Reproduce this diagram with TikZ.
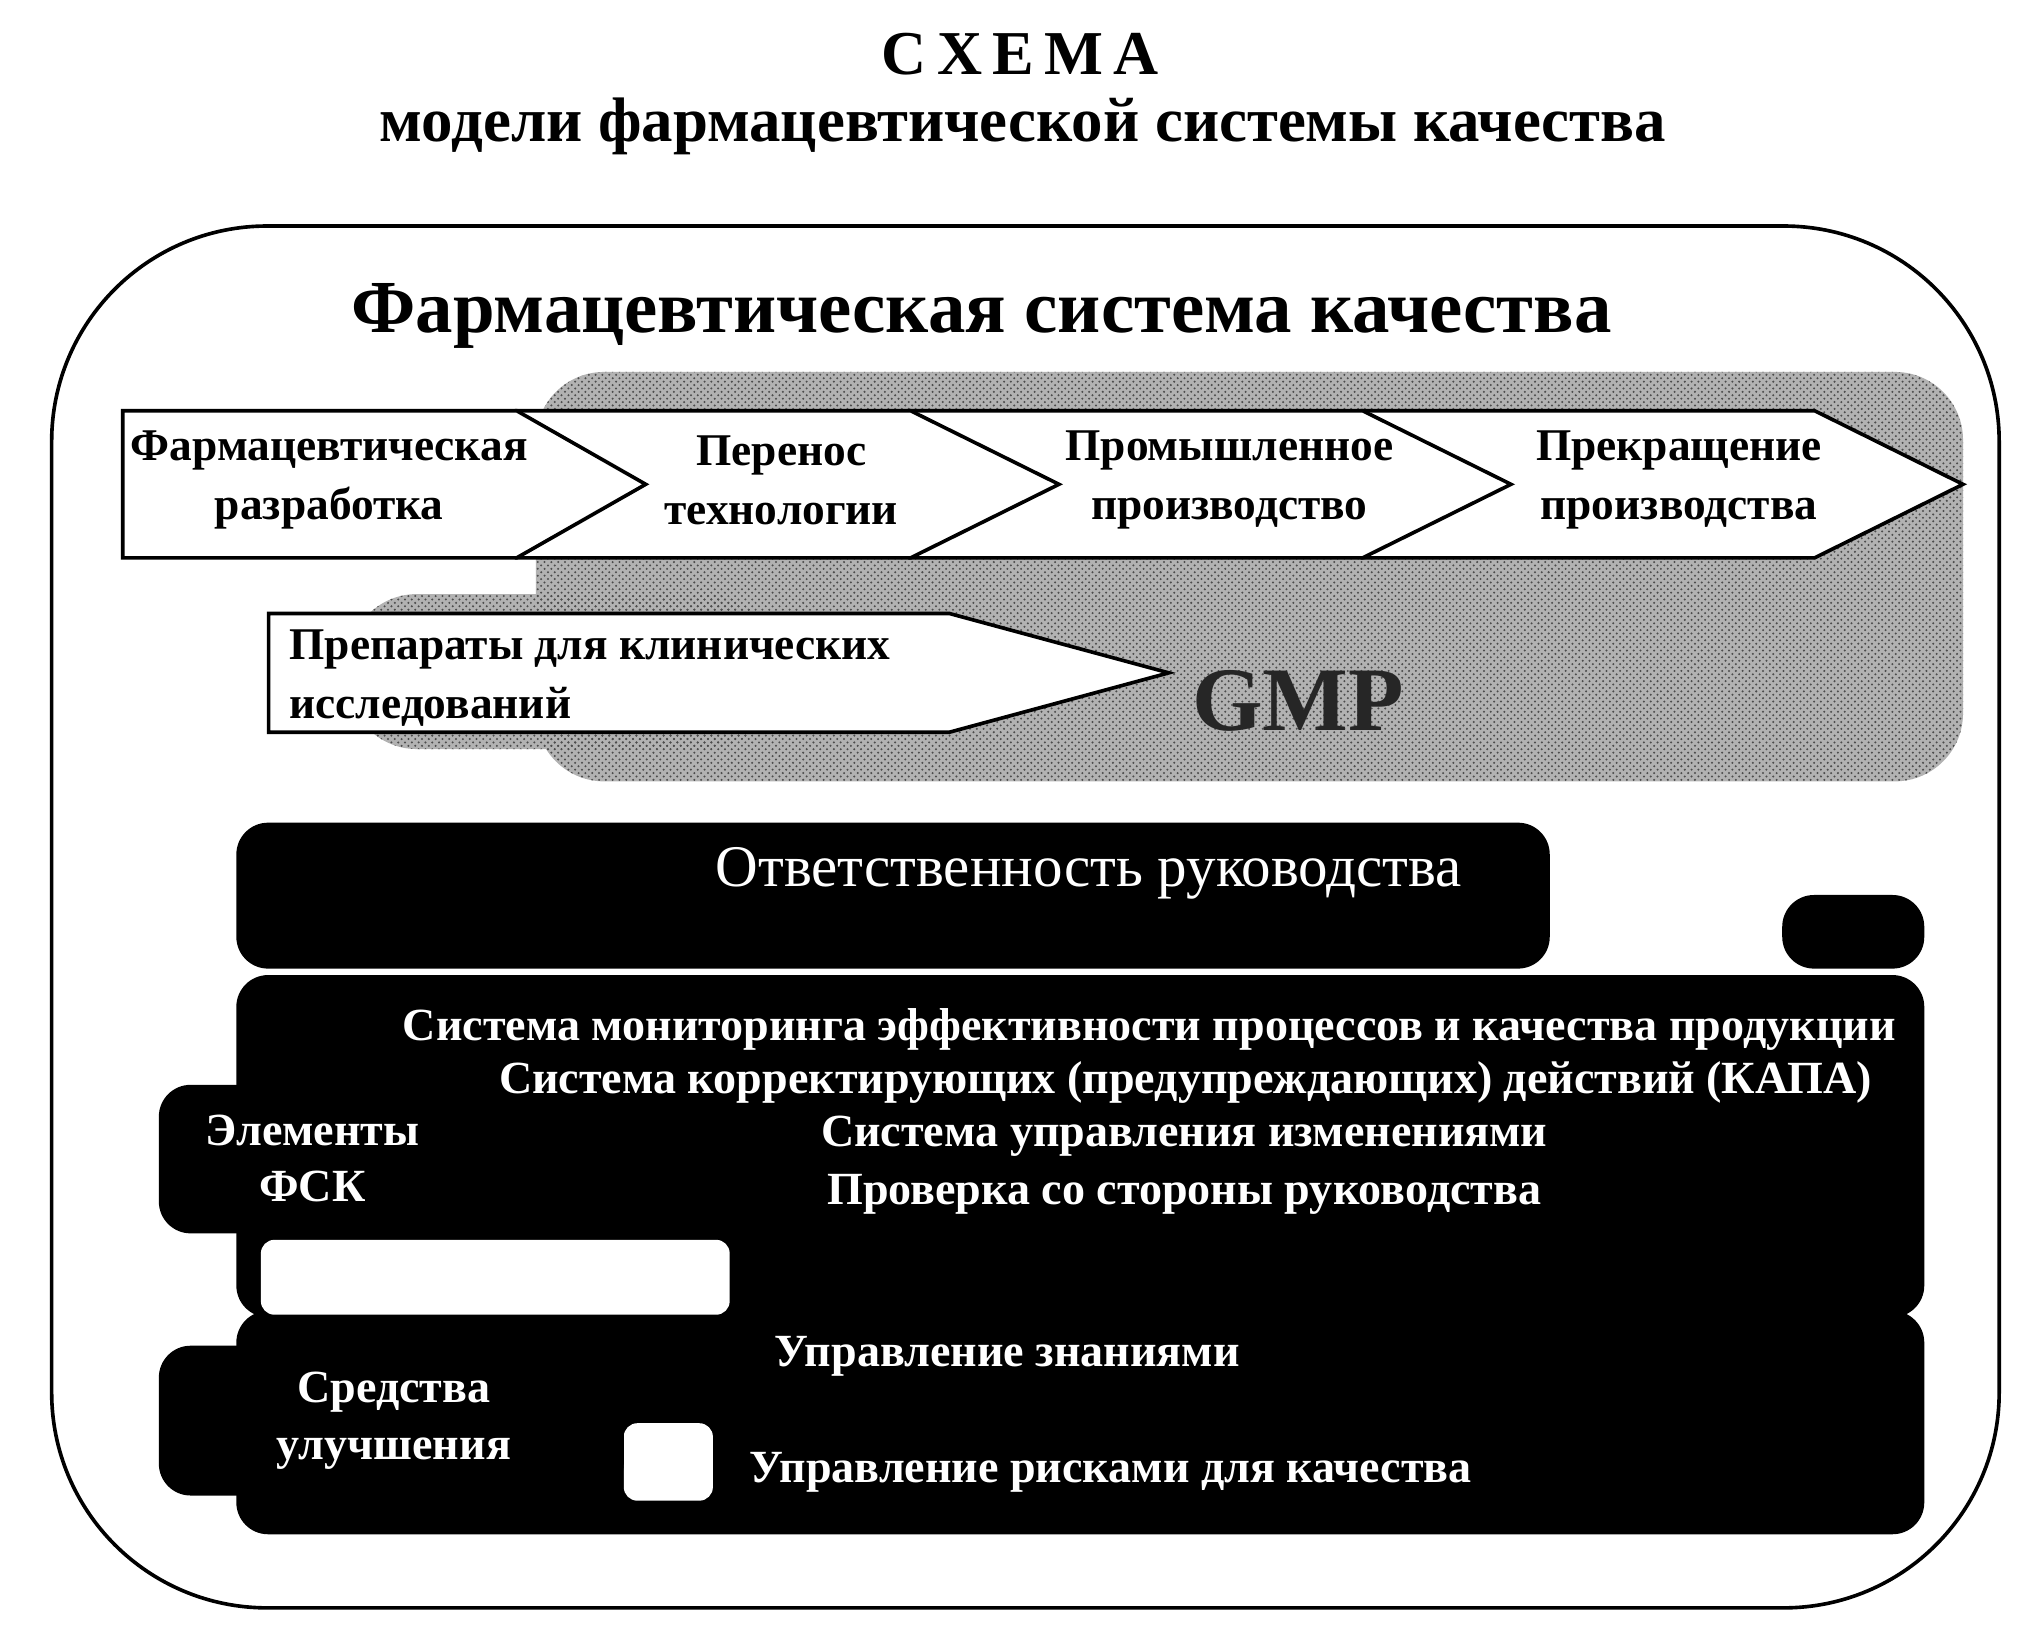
\documentclass[tikz,border=0pt]{standalone}
\usepackage{fontspec}
\setmainfont{Liberation Serif}
\usetikzlibrary{patterns}
\tikzset{
  stage/.style={draw,line width=1.6pt,fill=white},
  stagetxt/.style={font=\fontsize{20}{26}\selectfont\bfseries,align=center},
  wtxt/.style={text=white,font=\fontsize{20.3}{25}\selectfont\bfseries},
  blk/.style={fill=black,rounded corners=14pt}
}
\begin{document}
\begin{tikzpicture}[x=0.02cm,y=-0.02cm]
\useasboundingbox (0,0) rectangle (1568,1268);
    % Titles
\node (t1) at (790,42) {\fontsize{27.5}{30}\selectfont\bfseries С\,Х\,Е\,М\,А};
\node (t2) at (792,98) {\fontsize{27.7}{30}\selectfont\bfseries модели фармацевтической системы качества};
\draw[line width=1.6pt,rounded corners=95pt] (40,175) rectangle (1548,1245);
\node (fsk) at (760,245) {\fontsize{33}{38}\selectfont\bfseries Фармацевтическая система качества};
    % GMP field
\begin{scope}[rounded corners=30pt]
\fill[gray!60] (415,288) rectangle (1520,605);
\fill[gray!60] (270,460) rectangle (600,580);
\pattern[pattern=crosshatch dots,pattern color=black!70] (415,288) rectangle (1520,605);
\pattern[pattern=crosshatch dots,pattern color=black!70] (270,460) rectangle (600,580);
\end{scope}
\node[text=black!85] (gmp) at (1005,543) {\fontsize{40}{44}\selectfont\bfseries GMP};
    % Stages, drawn right to left
\def\stagearrow#1#2#3{
  \draw[stage] (#1,318) -- (#2,318) -- (#3,375) -- (#2,432) -- (#1,432) -- cycle;
}
\stagearrow{1055}{1405}{1520}
\stagearrow{705}{1055}{1170}
\stagearrow{400}{705}{820}
\stagearrow{95}{400}{500}
\node[stagetxt] (s1) at (255,372) {Фармацевтическая\\разработка};
\node[stagetxt] (s2) at (605,372) {Перенос\\технологии};
\node[stagetxt] (s3) at (952,372) {Промышленное\\производство};
\node[stagetxt] (s4) at (1300,372) {Прекращение\\производства};
\draw[stage] (208,475) -- (735,475) -- (905,521) -- (735,567) -- (208,567) -- cycle;
\node[stagetxt,align=left,anchor=west] (clin) at (218,525) {Препараты для клинических\\исследований};
    % Black blocks
\fill[blk] (183,637) rectangle (1200,750);
\fill[blk] (1380,693) rectangle (1490,750);
\fill[blk] (183,755) rectangle (1490,1020);
\fill[blk] (183,1015) rectangle (1490,1188);
\fill[white,rounded corners=6pt] (202,960) rectangle (565,1018);
\fill[white,rounded corners=6pt] (483,1102) rectangle (552,1162);
\fill[blk] (123,840) rectangle (395,955);
\fill[blk] (123,1042) rectangle (483,1158);
\node[text=white] (resp) at (843,676) {\fontsize{26}{30}\selectfont Ответственность руководства};
\node[wtxt] (e1) at (890,797) {Система мониторинга эффективности процессов и качества продукции};
\node[wtxt] (e2) at (918,838) {Система корректирующих (предупреждающих) действий (КАПА)};
\node[wtxt] (e3) at (917,880) {Система управления изменениями};
\node[wtxt] (e4) at (917,925) {Проверка со стороны руководства};
\node[wtxt] (e5) at (780,1050) {Управление знаниями};
\node[wtxt] (e6) at (860,1140) {Управление рисками для качества};
\node[wtxt,align=center] (el) at (242,897) {Элементы\\ФСК};
\node[wtxt,align=center] (imp) at (305,1100) {Средства\\улучшения};
\end{tikzpicture}
\end{document}
